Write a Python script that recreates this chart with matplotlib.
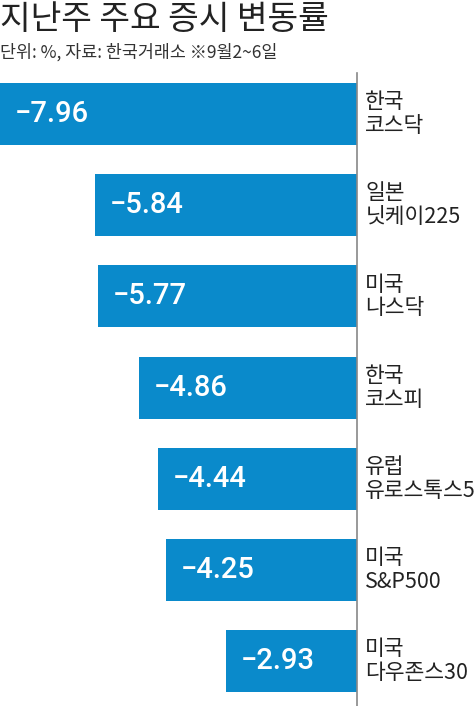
import matplotlib
matplotlib.use("Agg")
import matplotlib.pyplot as plt

plt.rcParams['font.family'] = ['Noto Sans CJK KR', 'DejaVu Sans']

markets = ["한국\n코스닥", "일본\n닛케이225", "미국\n나스닥", "한국\n코스피", "유럽\n유로스톡스50", "미국\nS&P500", "미국\n다우존스30"]
values = [-7.96, -5.84, -5.77, -4.86, -4.44, -4.25, -2.93]
labels = ["−7.96", "−5.84", "−5.77", "−4.86", "−4.44", "−4.25", "−2.93"]

fig = plt.figure(figsize=(4.74, 7.06), dpi=100)
fig.patch.set_facecolor("white")
W, H = 474, 706
ax = fig.add_axes([0, 0, 357 / W, (706 - 73) / H])
ys = list(range(len(values)))
ax.barh(ys, values, height=0.68, color="#0a8acb", left=0)
ax.set_xlim(-7.96, 0)
ax.set_ylim(6.49, -0.45)
ax.axis("off")
ax.plot([0, 0], [6.49, -0.45], color="#888888", lw=1.2, clip_on=False)
for y, v, lab, m in zip(ys, values, labels, markets):
    ax.text(v + 0.33, y, lab, color="white", fontsize=21, va="center", ha="left",
            family=['Roboto', 'DejaVu Sans'], fontweight="medium")
    ax.annotate(m, (0, y), xytext=(6, 0), textcoords="offset points", va="center", ha="left",
                fontsize=15.5, color="#222222", linespacing=1.1, annotation_clip=False)

fig.text(0, 1 - 2 / H, "지난주 주요 증시 변동률", fontsize=24, va="top", ha="left", color="#222222")
fig.text(0, 1 - 43 / H, "단위: %, 자료: 한국거래소 ※9월2~6일", fontsize=12.5, va="top", ha="left", color="#333333")
fig.savefig("out.png", dpi=100)
